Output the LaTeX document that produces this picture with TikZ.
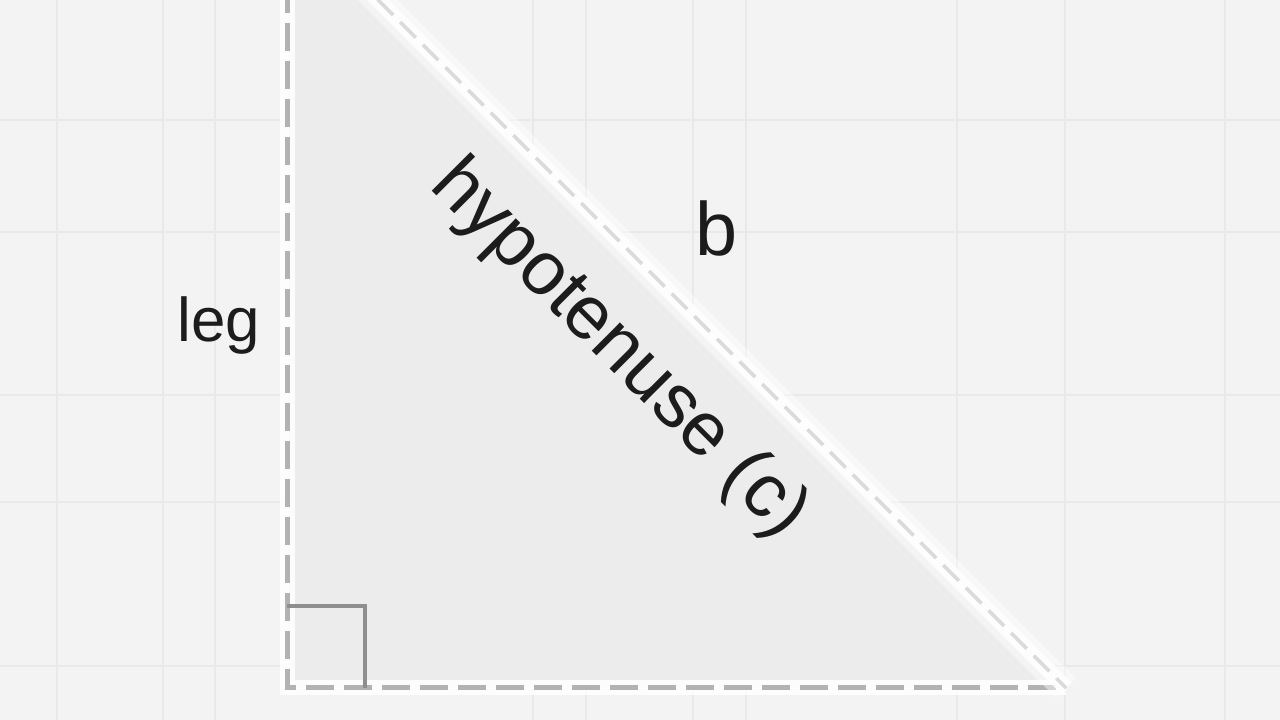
\documentclass[tikz,border=0pt]{standalone}
\usepackage{fontspec}
\setmainfont{Liberation Sans}
\usetikzlibrary{positioning}

\definecolor{bgcol}{HTML}{F3F3F3}
\definecolor{gridcol}{HTML}{E9E9E9}
\definecolor{trifill}{HTML}{ECECEC}
\definecolor{leggray}{HTML}{B2B2B2}
\definecolor{hypgray}{HTML}{DADADA}
\definecolor{markgray}{HTML}{8E8E8E}
\definecolor{inkcol}{HTML}{1C1C1C}

\begin{document}
\begin{tikzpicture}[
    gridline/.style={draw=gridcol, line width=0.5pt},
    glow/.style={draw=white, line width=0.15cm, opacity=0.85},
    softglow/.style={draw=white, line width=0.28cm, opacity=0.45},
    legline/.style={draw=leggray, line width=0.05cm, dash pattern=on 0.28cm off 0.1cm},
    hypline/.style={draw=hypgray, line width=0.035cm, dash pattern=on 0.22cm off 0.1cm},
    rightmark/.style={draw=markgray, line width=0.045cm},
    lbl/.style={text=inkcol, inner sep=0pt}
]
% Hintergrund und Raster
\useasboundingbox (0,0) rectangle (12.8,7.2);
\clip (0,0) rectangle (12.8,7.2);
\fill[bgcol] (0,0) rectangle (12.8,7.2);
\foreach \x in {0.57,1.63,2.15,5.33,5.86,6.93,7.46,9.57,10.65,12.25}
    \draw[gridline] (\x,0) -- (\x,7.2);
\foreach \y in {6.0,4.88,3.25,2.18,0.54}
    \draw[gridline] (0,\y) -- (12.8,\y);

% Ecken des Dreiecks
\coordinate (A) at (2.87,0.32);
\coordinate (B) at (10.66,0.32);
\coordinate (T) at (2.87,8.11);

\fill[trifill] (A) -- (B) -- (T) -- cycle;

% Katheten
\draw[glow] (T) -- (A) -- (B);
\draw[legline] (T) -- (A) -- (B);

% Hypotenuse
\draw[softglow] (T) -- (B);
\draw[glow] (T) -- (B);
\draw[hypline] (T) -- (B);

% rechter Winkel
\draw[rightmark] ([yshift=0.82cm]A) -- ++(0.78,0) -- ++(0,-0.82);

% Beschriftungen
\node[lbl, font=\fontsize{17.6}{20}\selectfont, anchor=base] (leg) at (2.19,3.78) {leg};
\node[lbl, font=\fontsize{21.5}{24}\selectfont, anchor=base] (b) at (7.16,4.64) {b};
\node[lbl, font=\fontsize{21.5}{24}\selectfont, anchor=base, rotate=-45] (hyp) at (6.05,3.56) {hypotenuse (c)};

\end{tikzpicture}
\end{document}
